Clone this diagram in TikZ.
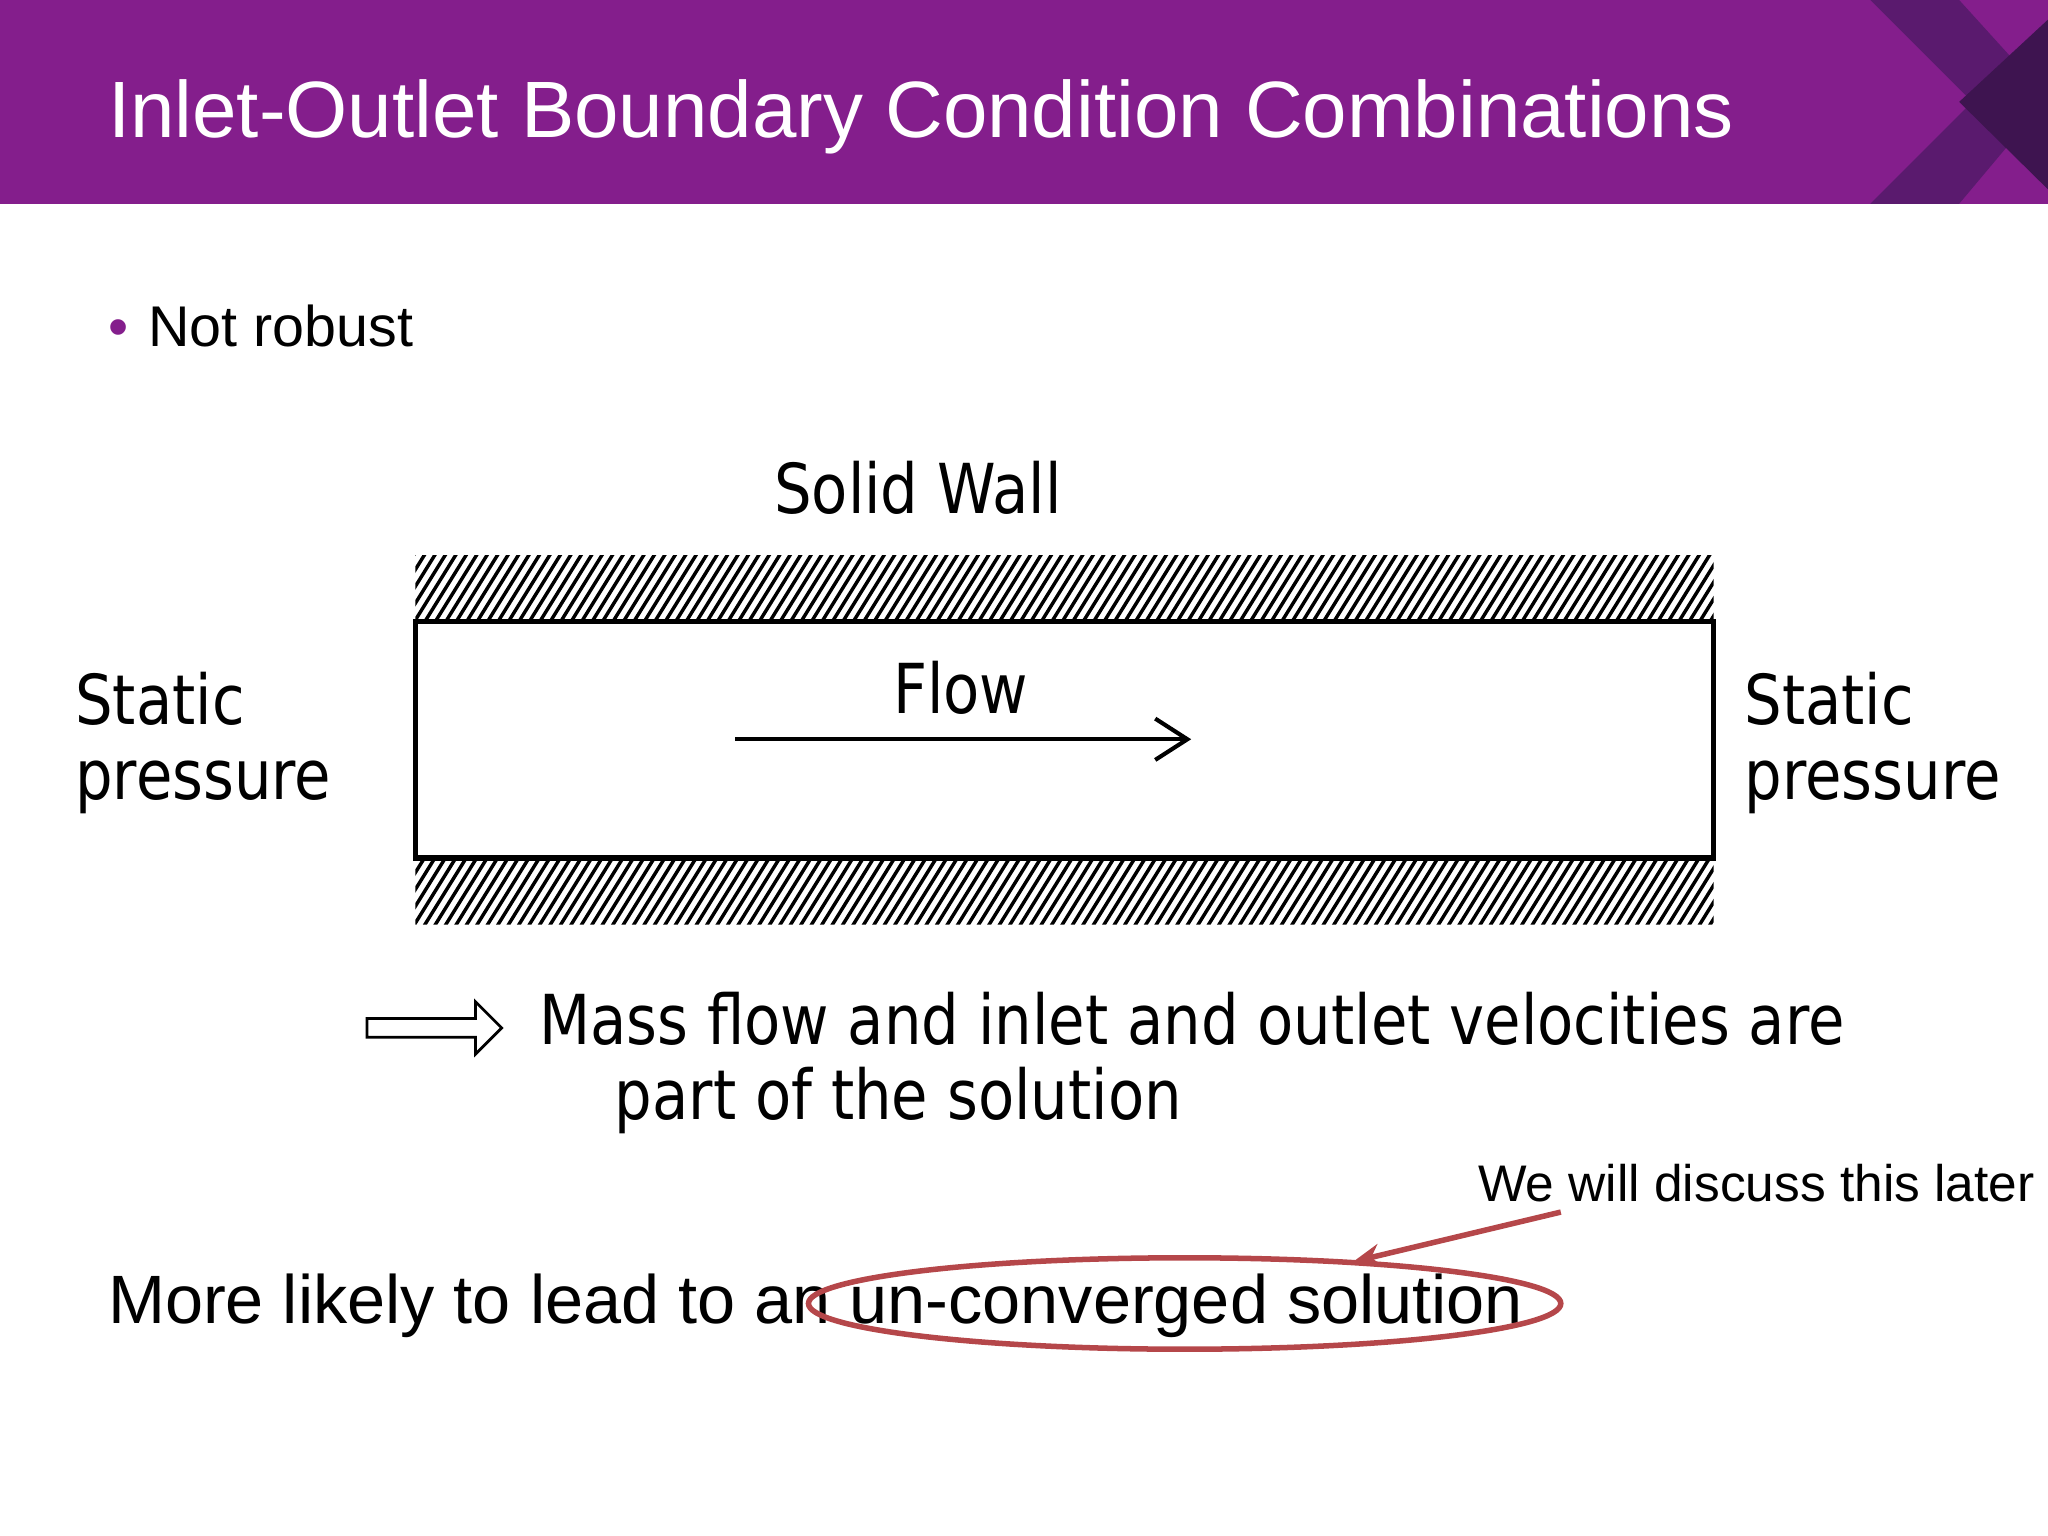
\documentclass[tikz,border=0pt]{standalone}
\usepackage{fontspec}
\setmainfont{Liberation Sans}
\newfontfamily\verd[FakeStretch=0.86]{DejaVu Sans}
\usetikzlibrary{arrows.meta,shapes.arrows}
\definecolor{slidepurple}{HTML}{841E8C}
\definecolor{darkpurple}{HTML}{5A1A6E}
\definecolor{darkerpurple}{HTML}{3E1450}
\definecolor{notered}{HTML}{B5474A}
\begin{document}
\begin{tikzpicture}[x=0.01cm,y=-0.01cm,
	title/.style={anchor=base west,text=white,inner sep=0pt,font=\fontsize{17.4}{21}\selectfont},
	slidetext/.style={anchor=base west,inner sep=0pt,font=\fontsize{12.5}{15}\selectfont},
	figtext/.style={anchor=base west,font=\verd\fontsize{15}{16.2}\selectfont,inner sep=0pt},
	wall/.style={line width=0.75pt}]
	\useasboundingbox (0,0) rectangle (1568,1176);
	% header band
	\fill[slidepurple] (0,0) rectangle (1568,156);
	\fill[darkpurple] (1432,0) -- (1500,0) -- (1568,75) -- (1500,156) -- (1432,156) -- (1510,78) -- cycle;
	\fill[darkerpurple] (1568,15) -- (1500,78) -- (1568,145) -- cycle;
	\node[title] (T) at (82,105) {Inlet-Outlet Boundary Condition Combinations};
	\node[slidetext] (B) at (82,265) {\textcolor{slidepurple}{\textbullet}\hspace{0.35em}Not robust};
	% hatched walls
	\begin{scope}
		\clip (318,425) rectangle (1312,475) (318,658) rectangle (1312,708);
		\foreach \x in {140,148,...,1320}
			\draw[wall] (\x,710) -- (\x+180,420);
	\end{scope}
	\draw[line width=1.2pt] (318,476) rectangle (1312,657);
	\node[figtext] (W) at (592,393) {Solid Wall};
	\node[figtext] (F) at (683,546) {Flow};
	\coordinate (FA) at (563,566);
	\coordinate (FB) at (912,566);
	\draw[-{Straight Barb[length=7pt,width=9pt]},line width=0.9pt] (FA) -- (FB);
	\node[figtext,align=left] (SL) at (57,612) {Static\\pressure};
	\node[figtext,align=left] (SR) at (1335,612) {Static\\pressure};
	\node[single arrow,draw,line width=0.6pt,minimum height=1.03cm,minimum width=0.4cm,
		single arrow head extend=0.05cm,inner sep=0.5pt,anchor=west] (H) at (280,787) {};
	\node[figtext] (M1) at (412,800) {Mass flow and inlet and outlet velocities are};
	\node[figtext] (M2) at (470,857) {part of the solution};
	% remark
	\node[anchor=base west,font=\fontsize{11.2}{13}\selectfont,inner sep=0pt] (N) at (1131,920) {We will discuss this later};
	\node[anchor=base west,font=\fontsize{14.9}{18}\selectfont,inner sep=0pt] (C) at (82,1013) {More likely to lead to an un-converged solution};
	\draw[notered,line width=1.2pt] (907,998) ellipse [x radius=288,y radius=35];
	\coordinate (RA) at (1195,928);
	\coordinate (RB) at (1036,966);
	\draw[notered,line width=1.2pt,-{Stealth[length=6pt,width=5pt]}] (RA) -- (RB);
\end{tikzpicture}
\end{document}
